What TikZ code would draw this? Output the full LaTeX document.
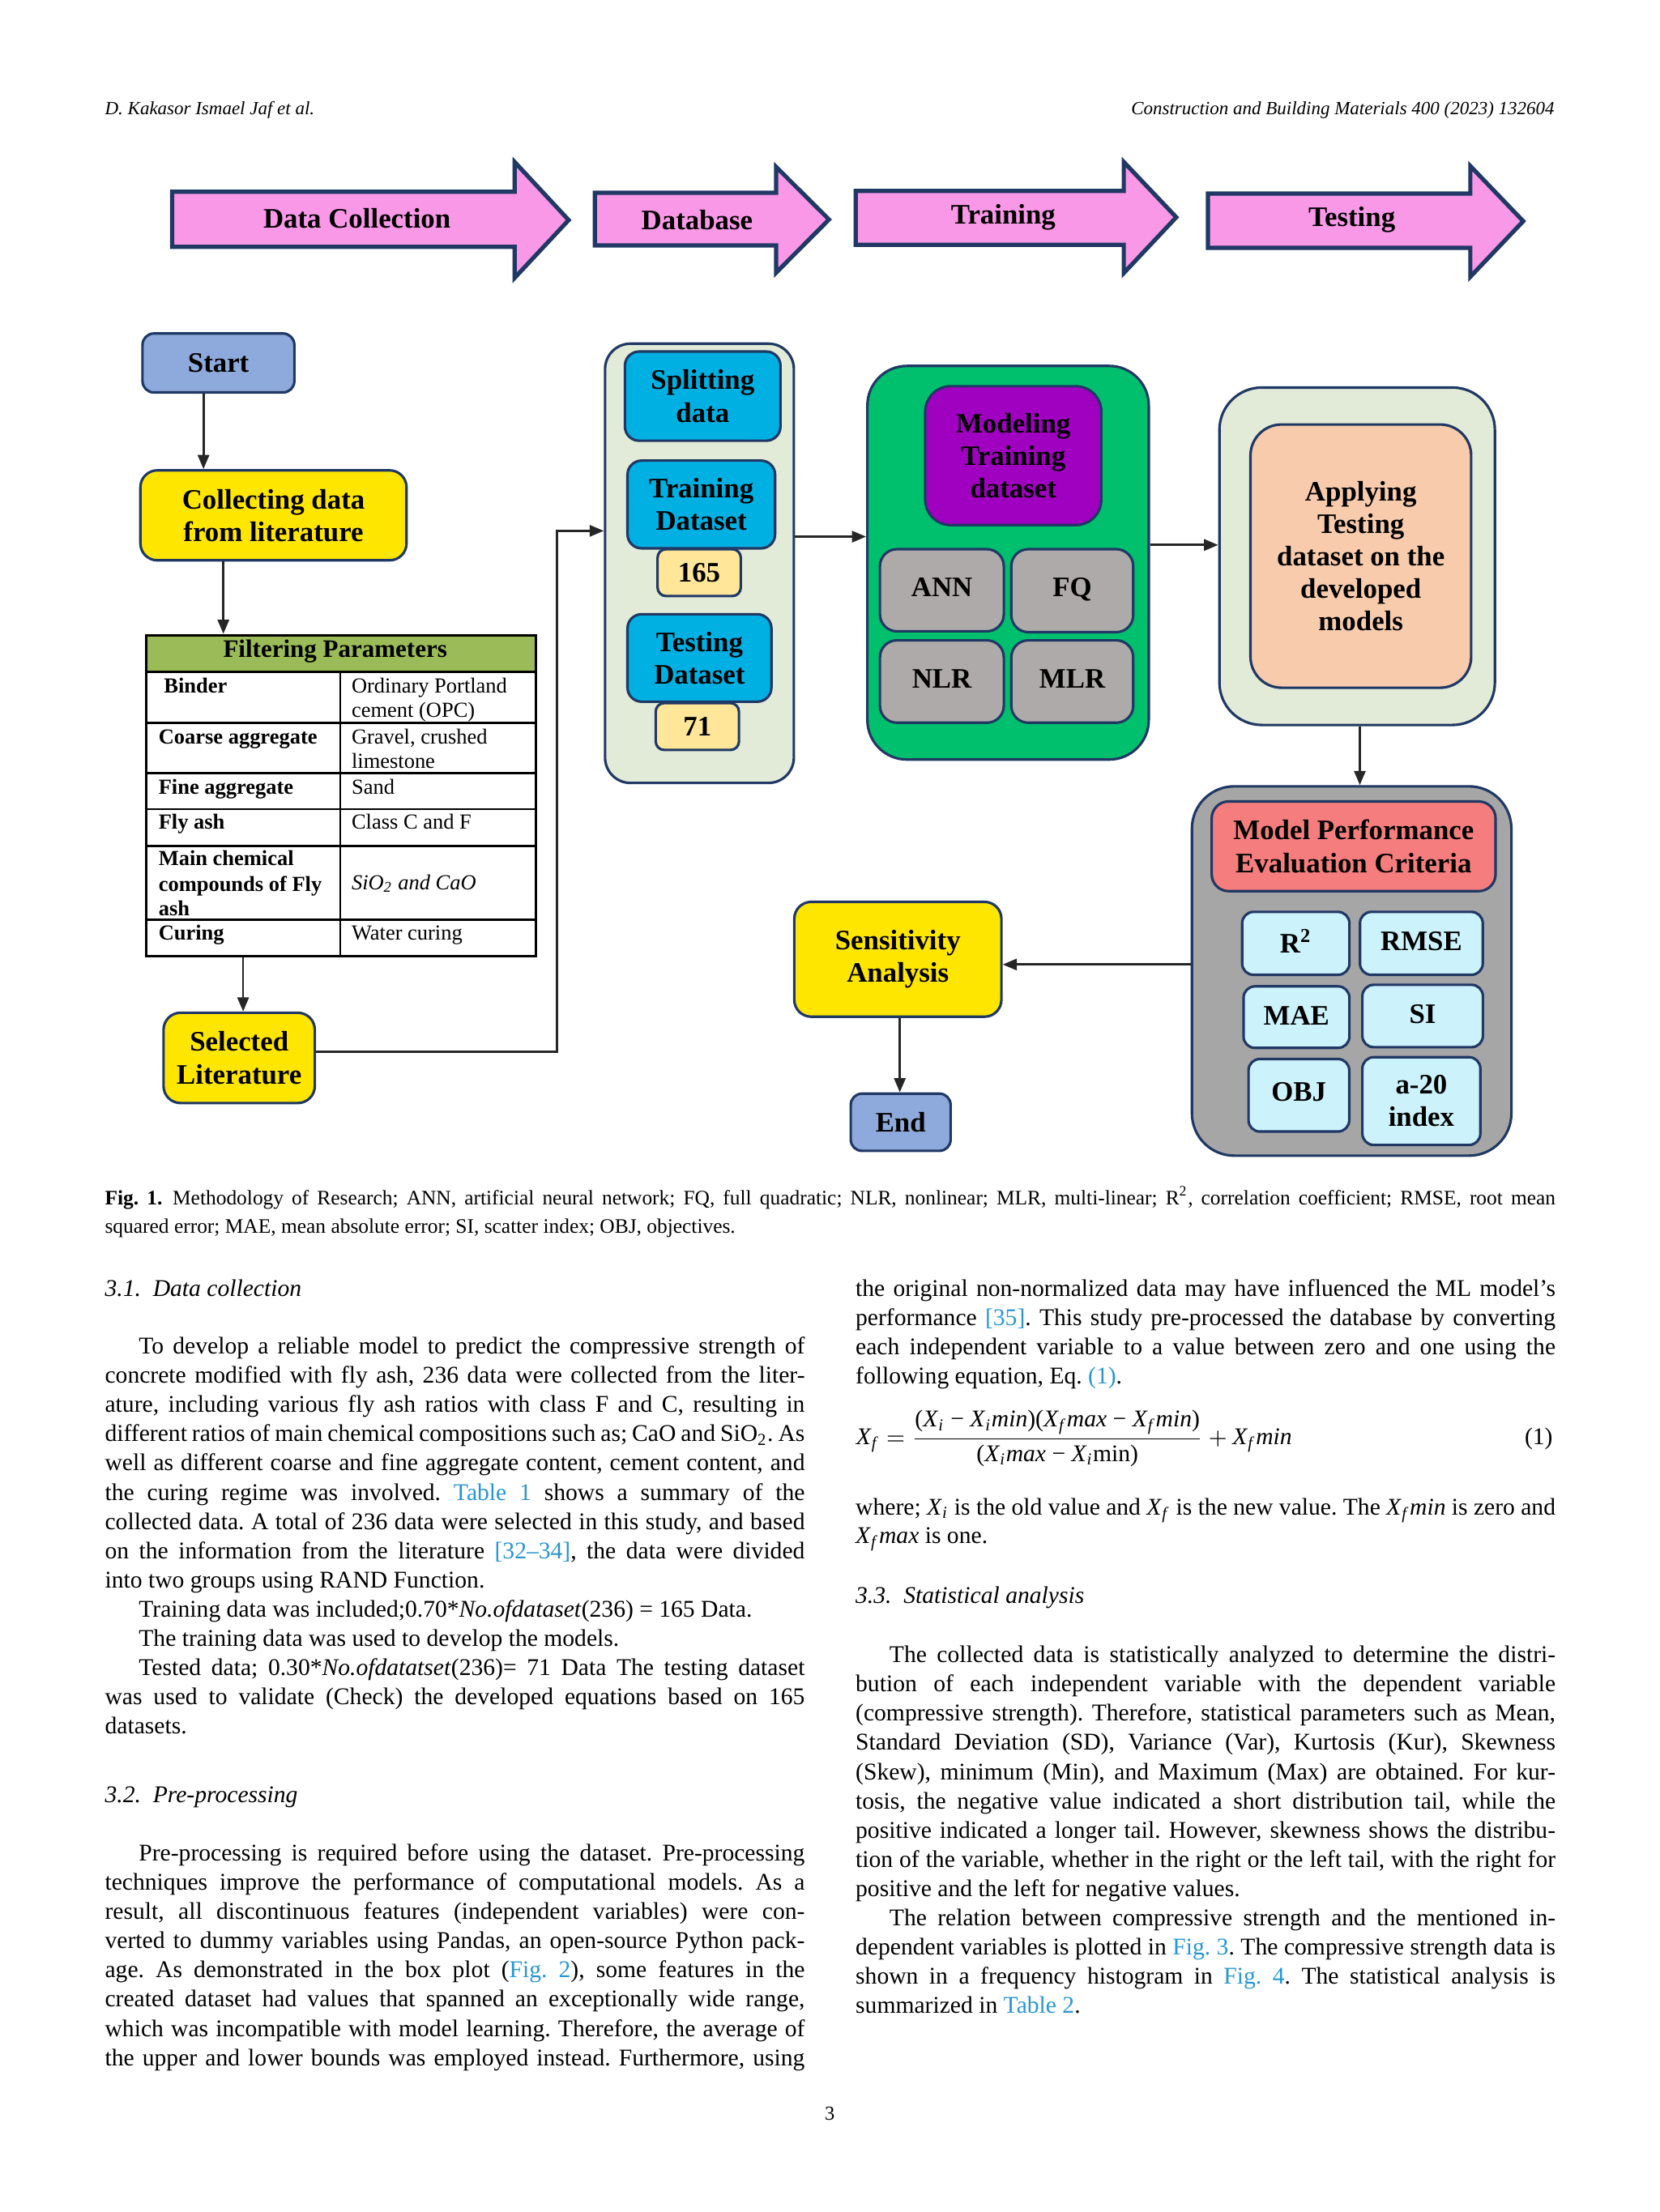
\documentclass[tikz,border=0pt]{standalone}
\usepackage{fontspec}
\setmainfont{Liberation Serif}
\usetikzlibrary{arrows.meta}
\frenchspacing
\definecolor{navy}{RGB}{32,56,100}
\definecolor{pinkA}{RGB}{250,152,232}
\definecolor{startc}{RGB}{142,169,219}
\definecolor{yell}{RGB}{255,230,0}
\definecolor{cyanb}{RGB}{0,176,226}
\definecolor{numc}{RGB}{255,230,153}
\definecolor{contc}{RGB}{226,234,216}
\definecolor{greenc}{RGB}{0,192,110}
\definecolor{purp}{RGB}{160,0,192}
\definecolor{grayb}{RGB}{175,170,170}
\definecolor{peach}{RGB}{248,203,173}
\definecolor{evalc}{RGB}{166,166,166}
\definecolor{salmon}{RGB}{245,125,125}
\definecolor{lcyan}{RGB}{204,242,252}
\definecolor{hdrg}{RGB}{155,187,89}
\definecolor{linkc}{RGB}{40,150,210}
\newcommand\dfont{\fontsize{10}{11.5}\selectfont\bfseries}
\newcommand\bfnt{\fontsize{8.5}{10.4}\selectfont}
\newcommand\cfnt{\fontsize{7.3}{9}\selectfont}
\newcommand\tfnt{\fontsize{7.6}{8.6}\selectfont}
\newcommand\hfnt{\fontsize{6.6}{8}\selectfont\itshape}
\newcommand\lk[1]{\textcolor{linkc}{#1}}
\newcommand\Xs[1]{\textit{X}\textsubscript{\textit{#1}}}
\newcommand\up[2]{\raisebox{#1}{#2}}
\tikzset{
  bx/.style={draw=navy, line width=0.9pt, rounded corners=4pt, inner sep=0pt, align=center, font=\dfont},
  conn/.style={draw=black!85, line width=0.8pt, -{Triangle[length=5pt,width=4pt]}},
  blockarrow/.style={fill=pinkA, draw=navy, line width=1.5pt, line join=miter},
  albl/.style={font=\dfont, inner sep=0pt},
  txt/.style={anchor=base west, inner sep=0pt, font=\bfnt},
  captxt/.style={anchor=base west, inner sep=0pt, font=\cfnt},
  tb/.style={anchor=base west, inner sep=0pt, font=\tfnt},
  tbb/.style={anchor=base west, inner sep=0pt, font=\tfnt\bfseries},
}
\newcommand\jl[4]{\node[txt] (#1) at (#2,#3) {\makebox[248pt][s]{#4}};}
\newcommand\ji[4]{\node[txt] (#1) at (#2,#3) {\makebox[236pt][s]{#4}};}
\newcommand\pl[4]{\node[txt] (#1) at (#2,#3) {#4};}
\begin{document}
\begin{tikzpicture}[x=0.5pt,y=-0.5pt]
\fill[white] (0,0) rectangle (1176,1568);
\useasboundingbox (0,0) rectangle (1176,1568);

% running header
\node[anchor=base west, inner sep=0pt, font=\hfnt] (hl) at (74,81.4) {D. Kakasor Ismael Jaf et al.};
\node[anchor=base east, inner sep=0pt, font=\hfnt] (hr) at (1102,81.4) {Construction and Building Materials 400 (2023) 132604};

% block arrows
\draw[blockarrow] (122,135.9) -- (364.7,135.9) -- (364.7,114.8) -- (403,156) -- (364.7,197) -- (364.7,175) -- (122,175) -- cycle;
\draw[blockarrow] (421.5,136.7) -- (550,136.7) -- (550,118.3) -- (587.5,155.6) -- (550,193.3) -- (550,174) -- (421.5,174) -- cycle;
\draw[blockarrow] (606.5,135.3) -- (796.4,135.3) -- (796.4,114.8) -- (833.6,154) -- (796.4,193.6) -- (796.4,173.5) -- (606.5,173.5) -- cycle;
\draw[blockarrow] (856,137.2) -- (1042,137.2) -- (1042,117.7) -- (1079.5,156.8) -- (1042,196.2) -- (1042,175.7) -- (856,175.7) -- cycle;
\node[albl] (a1) at (253,155) {Data Collection};
\node[albl] (a2) at (494,156) {Database};
\node[albl] (a3) at (711,154) {Training};
\node[albl] (a4) at (958,156) {Testing};

% left column
\node[bx, fill=startc, minimum width=53.8pt, minimum height=20.9pt] (start) at (154.8,257.3) {Start};
\node[bx, fill=yell, rounded corners=6pt, minimum width=94.3pt, minimum height=31.9pt] (collect) at (193.8,365.3) {Collecting data\\from literature};

% table
\fill[hdrg] (103.4,450.2) rectangle (379.6,476.2);
\node[draw=black, line width=0.9pt, minimum width=138.1pt, minimum height=113.7pt, inner sep=0pt] (tbl) at (241.5,563.9) {};
\draw[black, line width=0.8pt] (103.4,476.2) -- (379.6,476.2) (103.4,512.4) -- (379.6,512.4) (103.4,547.8) -- (379.6,547.8) (103.4,573.6) -- (379.6,573.6) (103.4,599.7) -- (379.6,599.7) (103.4,652.1) -- (379.6,652.1) (241.2,476.2) -- (241.2,677.6);
\node[anchor=base, inner sep=0pt, font=\fontsize{8.9}{10}\selectfont\bfseries] (th) at (237.5,466.1) {Filtering Parameters};
\node[tbb] (t1a) at (115.8,491) {Binder};
\node[tbb] (t2a) at (112,527.3) {Coarse aggregate};
\node[tbb] (t3a) at (112,562.7) {Fine aggregate};
\node[tbb] (t4a) at (112,587.6) {Fly ash};
\node[tbb] (t5a) at (112,613.5) {Main chemical};
\node[tbb] (t5b) at (112,631.6) {compounds of Fly};
\node[tbb] (t5c) at (112,648.9) {ash};
\node[tbb] (t6a) at (112,666.1) {Curing};
\node[tb] (v1a) at (248.8,491) {Ordinary Portland};
\node[tb] (v1b) at (248.8,508.2) {cement (OPC)};
\node[tb] (v2a) at (248.8,527.3) {Gravel, crushed};
\node[tb] (v2b) at (248.8,544.5) {limestone};
\node[tb] (v3) at (248.8,562.7) {Sand};
\node[tb] (v4) at (248.8,587.6) {Class C and F};
\node[tb] (v5) at (248.8,630.7) {\textit{SiO\textsubscript{2} and CaO}};
\node[tb] (v6) at (248.8,666.1) {Water curing};

\node[bx, fill=yell, rounded corners=6pt, minimum width=53.6pt, minimum height=32pt] (selected) at (169.5,749.9) {Selected\\Literature};

% database column
\node[bx, fill=contc, rounded corners=9pt, minimum width=66.9pt, minimum height=155.7pt] (dbc) at (495.7,399.3) {};
\node[bx, fill=cyanb, rounded corners=5pt, minimum width=55.1pt, minimum height=31.6pt] (split) at (498,280.8) {Splitting\\data};
\node[bx, fill=cyanb, rounded corners=5pt, minimum width=52.3pt, minimum height=31.1pt] (trainds) at (497,357.6) {Training\\Dataset};
\node[bx, fill=numc, rounded corners=3pt, minimum width=29.5pt, minimum height=16.6pt] (n165) at (495.5,405.9) {165};
\node[bx, fill=cyanb, rounded corners=5pt, minimum width=51pt, minimum height=31pt] (testds) at (495.7,466.4) {Testing\\Dataset};
\node[bx, fill=numc, rounded corners=3pt, minimum width=29.5pt, minimum height=16.6pt] (n71) at (494.2,515) {71};

% training column
\node[bx, fill=greenc, rounded corners=14pt, minimum width=99.7pt, minimum height=139.5pt] (green) at (714.4,398.9) {};
\node[bx, fill=purp, rounded corners=9pt, minimum width=62.4pt, minimum height=49.2pt] (model) at (718.1,323) {Modeling\\Training\\dataset};
\node[bx, fill=grayb, rounded corners=6pt, minimum width=43.9pt, minimum height=29.1pt] (ann) at (667.5,418.4) {\up{2.2pt}{ANN}};
\node[bx, fill=grayb, rounded corners=6pt, minimum width=43.2pt, minimum height=29.4pt] (fq) at (759.9,418.7) {\up{2.2pt}{FQ}};
\node[bx, fill=grayb, rounded corners=6pt, minimum width=43.9pt, minimum height=29.2pt] (nlr) at (667.5,483.1) {\up{2pt}{NLR}};
\node[bx, fill=grayb, rounded corners=6pt, minimum width=43.2pt, minimum height=29.2pt] (mlr) at (759.9,483.1) {\up{2pt}{MLR}};

% testing column
\node[bx, fill=contc, rounded corners=15pt, minimum width=97.6pt, minimum height=119.6pt] (applyo) at (961.8,394.3) {};
\node[bx, fill=peach, rounded corners=11pt, minimum width=78.2pt, minimum height=93.3pt] (applyi) at (964.4,394.2) {Applying\\Testing\\dataset on the\\developed\\models};

\node[bx, fill=evalc, rounded corners=15pt, minimum width=113.2pt, minimum height=130.9pt] (eval) at (957.9,688.3) {};
\node[bx, fill=salmon, rounded corners=6pt, minimum width=100.6pt, minimum height=31.8pt, font=\fontsize{10}{12}\selectfont\bfseries] (perf) at (959.3,599.9) {Model Performance\\Evaluation Criteria};
\node[bx, fill=lcyan, minimum width=38pt, minimum height=22.3pt] (r2) at (918.3,668.7) {\up{1.5pt}{R\textsuperscript{2}}};
\node[bx, fill=lcyan, minimum width=43.5pt, minimum height=22.3pt] (rmse) at (1007.3,668.7) {\up{1.5pt}{RMSE}};
\node[bx, fill=lcyan, minimum width=37.5pt, minimum height=21.8pt] (mae) at (918.8,721) {\up{1.2pt}{MAE}};
\node[bx, fill=lcyan, minimum width=42.7pt, minimum height=22.1pt] (si) at (1008.2,720.2) {\up{1.2pt}{SI}};
\node[bx, fill=lcyan, minimum width=35.7pt, minimum height=25.7pt] (obj) at (920.5,776.4) {\up{2.5pt}{OBJ}};
\node[bx, fill=lcyan, minimum width=41.8pt, minimum height=31.1pt] (a20) at (1007.3,780.5) {a-20\\index};

\node[bx, fill=yell, rounded corners=6pt, minimum width=73.4pt, minimum height=40.7pt] (sens) at (636.3,680) {\up{1.5pt}{\begin{tabular}{@{}c@{}}Sensitivity\\Analysis\end{tabular}}};
\node[bx, fill=startc, minimum width=35.4pt, minimum height=20.3pt] (endbox) at (638.3,795.5) {End};

% connectors
\draw[conn] ([xshift=-5.3pt]start.south) -- ([xshift=-5.3pt]start.south |- collect.north);
\draw[conn] ([xshift=-17.75pt]collect.south) -- ([xshift=-17.75pt]collect.south |- tbl.north);
\draw[conn] ([xshift=1.4pt]selected.north |- tbl.south) -- ([xshift=1.4pt]selected.north);
\coordinate (elbow) at (394.8,376.3);
\draw[conn] ([yshift=2.2pt]selected.east) -| (elbow) -- (elbow -| dbc.west);
\draw[conn] ([yshift=9.45pt]dbc.east) -- ([yshift=9.45pt]dbc.east -| green.west);
\draw[conn] ([yshift=6.3pt]green.east) -- ([yshift=6.3pt]green.east -| applyo.west);
\draw[conn] ([xshift=0.95pt]applyo.south) -- ([xshift=0.95pt]applyo.south |- eval.north);
\draw[conn] ([yshift=2.3pt]eval.west) -- ([yshift=2.3pt]eval.west -| sens.east);
\draw[conn] ([xshift=0.7pt]sens.south) -- ([xshift=0.7pt]sens.south |- endbox.north);

% caption
\node[captxt] (cap1) at (74,854) {\makebox[514pt][s]{\textbf{Fig. 1.}\enspace Methodology of Research; ANN, artificial neural network; FQ, full quadratic; NLR, nonlinear; MLR, multi-linear; R\textsuperscript{2}, correlation coefficient; RMSE, root mean}};
\node[captxt] (cap2) at (74,874) {squared error; MAE, mean absolute error; SI, scatter index; OBJ, objectives.};

% left column text
\node[txt, font=\bfnt\itshape] (h31) at (74,918.8) {3.1.\enspace Data collection};
\ji{L1}{98}{959.8}{To develop a reliable model to predict the compressive strength of}
\jl{L2}{74}{980.5}{concrete modified with fly ash, 236 data were collected from the liter-}
\jl{L3}{74}{1001.2}{ature, including various fly ash ratios with class F and C, resulting in}
\jl{L4}{74}{1021.9}{different ratios of main chemical compositions such as; CaO and SiO\textsubscript{2}. As}
\jl{L5}{74}{1042.6}{well as different coarse and fine aggregate content, cement content, and}
\jl{L6}{74}{1063.4}{the curing regime was involved. \lk{Table 1} shows a summary of the}
\jl{L7}{74}{1084.1}{collected data. A total of 236 data were selected in this study, and based}
\jl{L8}{74}{1104.8}{on the information from the literature \lk{[32–34]}, the data were divided}
\pl{L9}{74}{1125.5}{into two groups using RAND Function.}
\pl{L10}{98}{1146.2}{Training data was included;0.70*\textit{No.ofdataset}(236) = 165 Data.}
\pl{L11}{98}{1166.9}{The training data was used to develop the models.}
\ji{L12}{98}{1187.6}{Tested data; 0.30*\textit{No.ofdatatset}(236)= 71 Data The testing dataset}
\jl{L13}{74}{1208.3}{was used to validate (Check) the developed equations based on 165}
\pl{L14}{74}{1229.1}{datasets.}

\node[txt, font=\bfnt\itshape] (h32) at (74,1277.6) {3.2.\enspace Pre-processing};
\ji{P1}{98}{1319.2}{Pre-processing is required before using the dataset. Pre-processing}
\jl{P2}{74}{1339.9}{techniques improve the performance of computational models. As a}
\jl{P3}{74}{1360.6}{result, all discontinuous features (independent variables) were con-}
\jl{P4}{74}{1381.3}{verted to dummy variables using Pandas, an open-source Python pack-}
\jl{P5}{74}{1402}{age. As demonstrated in the box plot (\lk{Fig.~2}), some features in the}
\jl{P6}{74}{1422.7}{created dataset had values that spanned an exceptionally wide range,}
\jl{P7}{74}{1443.4}{which was incompatible with model learning. Therefore, the average of}
\jl{P8}{74}{1464.1}{the upper and lower bounds was employed instead. Furthermore, using}

% right column text
\jl{R1}{606}{918.8}{the original non-normalized data may have influenced the ML model’s}
\jl{R2}{606}{939.5}{performance \lk{[35]}. This study pre-processed the database by converting}
\jl{R3}{606}{960.2}{each independent variable to a value between zero and one using the}
\pl{R4}{606}{980.9}{following equation, Eq. \lk{(1)}.}
\node[txt] (eq) at (606.4,1023.8) {$\mbox{\Xs{f}} = \displaystyle\frac{\mbox{(\Xs{i} − \Xs{i}\textit{min})(\Xs{f}\textit{max} − \Xs{f}\textit{min})}}{\mbox{(\Xs{i}\textit{max} − \Xs{i}min)}} + \mbox{\Xs{f}\textit{min}}$};
\node[txt, anchor=base east] (eqn) at (1100.8,1023.8) {(1)};
\jl{R5}{606}{1073.8}{where; \Xs{i} is the old value and \Xs{f} is the new value. The \Xs{f}\textit{min} is zero and}
\pl{R6}{606}{1093.9}{\Xs{f}\textit{max} is one.}

\node[txt, font=\bfnt\itshape] (h33) at (606,1136.5) {3.3.\enspace Statistical analysis};
\ji{S1}{630}{1178.6}{The collected data is statistically analyzed to determine the distri-}
\jl{S2}{606}{1199.3}{bution of each independent variable with the dependent variable}
\jl{S3}{606}{1220}{(compressive strength). Therefore, statistical parameters such as Mean,}
\jl{S4}{606}{1240.7}{Standard Deviation (SD), Variance (Var), Kurtosis (Kur), Skewness}
\jl{S5}{606}{1261.4}{(Skew), minimum (Min), and Maximum (Max) are obtained. For kur-}
\jl{S6}{606}{1282.1}{tosis, the negative value indicated a short distribution tail, while the}
\jl{S7}{606}{1302.9}{positive indicated a longer tail. However, skewness shows the distribu-}
\jl{S8}{606}{1323.6}{tion of the variable, whether in the right or the left tail, with the right for}
\pl{S9}{606}{1344.3}{positive and the left for negative values.}
\ji{S10}{630}{1365}{The relation between compressive strength and the mentioned in-}
\jl{S11}{606}{1385.7}{dependent variables is plotted in \lk{Fig.~3}. The compressive strength data is}
\jl{S12}{606}{1406.4}{shown in a frequency histogram in \lk{Fig.~4}. The statistical analysis is}
\pl{S13}{606}{1427.1}{summarized in \lk{Table 2}.}

\node[anchor=base, inner sep=0pt, font=\fontsize{7}{8}\selectfont] (pg) at (588,1503) {3};
\end{tikzpicture}
\end{document}
